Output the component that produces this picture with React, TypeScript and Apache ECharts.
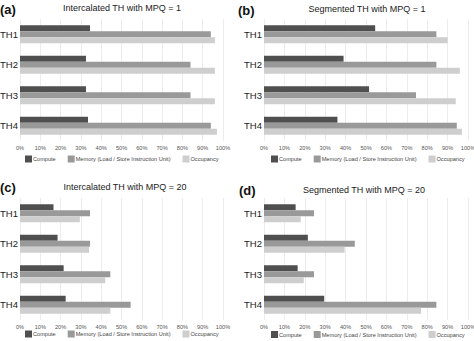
import React, { useEffect, useRef } from "react";
import * as echarts from "echarts";

const categories = ["TH1", "TH2", "TH3", "TH4"];
const seriesNames = ["Compute", "Memory (Load / Store Instruction Unit)", "Occupancy"];
const xTicks = [0, 10, 20, 30, 40, 50, 60, 70, 80, 90, 100];

const panelLetters = ["(a)", "(b)", "(c)", "(d)"];
const panelTitles = [
  "Intercalated TH with MPQ = 1",
  "Segmented TH with MPQ = 1",
  "Intercalated TH with MPQ = 20",
  "Segmented TH with MPQ = 20",
];

const computeA = [34.5, 32.5, 32.5, 33.5];
const memoryA = [94, 84, 84, 94];
const occupancyA = [96, 96, 96, 97];

const computeB = [54.5, 39, 51.5, 36];
const memoryB = [84.5, 84.5, 74.5, 94.5];
const occupancyB = [90, 96, 94, 97];

const computeC = [16.5, 18.5, 21.5, 22.5];
const memoryC = [34.5, 34.5, 44.5, 54.5];
const occupancyC = [29.5, 34, 42, 44.5];

const computeD = [15.5, 21.5, 16.5, 29.5];
const memoryD = [24.5, 44.5, 24.5, 84.5];
const occupancyD = [18, 39.5, 19.5, 77];

const panelData = [
  [computeA, memoryA, occupancyA],
  [computeB, memoryB, occupancyB],
  [computeC, memoryC, occupancyC],
  [computeD, memoryD, occupancyD],
];

const colors = ["#4f4f4f", "#999999", "#cecece"];

const layout = [
  { left: 20, top: 19, width: 203, height: 122, titleX: 122, titleY: 8, letterX: 0, letterY: 9, legendX: 25, legendY: 155.5 },
  { left: 264, top: 19, width: 204, height: 122, titleX: 367, titleY: 9, letterX: 238, letterY: 10, legendX: 271, legendY: 155.5 },
  { left: 20, top: 198, width: 203, height: 122, titleX: 125, titleY: 187, letterX: 0, letterY: 187, legendX: 25, legendY: 330.5 },
  { left: 264, top: 198, width: 204, height: 122, titleX: 364, titleY: 190, letterX: 239, letterY: 190, legendX: 271, legendY: 331 },
];

export default function App() {
  const ref = useRef<HTMLDivElement>(null);
  useEffect(() => {
    if (!ref.current) return;
    const chart = echarts.init(ref.current, null, { renderer: "svg" });
    const font = "Liberation Sans, Arial, sans-serif";
    const grids = layout.map((l) => ({
      left: l.left,
      top: l.top,
      width: l.width,
      height: l.height,
      outerBoundsMode: "none",
      containLabel: false,
    }));
    const xAxes = layout.map((_, i) => ({
      type: "value",
      gridIndex: i,
      min: 0,
      max: 100,
      interval: 10,
      axisLine: { show: false },
      axisTick: { show: false },
      axisLabel: {
        formatter: (v: number) => (xTicks.includes(v) ? v + "%" : ""),
        fontSize: 5.6,
        color: "#555",
        fontFamily: font,
        margin: 4,
      },
      splitLine: { show: true, lineStyle: { color: "#ececec", width: 1 } },
    }));
    const yAxes = layout.map((_, i) => ({
      type: "category",
      gridIndex: i,
      data: categories,
      inverse: true,
      axisLine: { show: false },
      axisTick: { show: false },
      axisLabel: { fontSize: 9.5, color: "#222", fontFamily: font, margin: 2 },
      splitLine: { show: false },
    }));
    const series: any[] = [];
    panelData.forEach((arrs, p) => {
      arrs.forEach((vals, s) => {
        series.push({
          type: "bar",
          name: seriesNames[s],
          xAxisIndex: p,
          yAxisIndex: p,
          data: vals,
          barWidth: 6,
          barGap: "0%",
          itemStyle: { color: colors[s] },
          silent: true,
        });
      });
    });
    const legends = layout.map((l) => ({
      data: seriesNames,
      left: l.legendX,
      top: l.legendY,
      width: 210,
      itemWidth: 7,
      itemHeight: 7,
      itemGap: 12,
      icon: "rect",
      textStyle: { fontSize: 5.6, color: "#444", fontFamily: font, padding: [0, 0, 0, -4] },
      padding: 0,
      selectedMode: false,
    }));
    const graphics: any[] = [];
    layout.forEach((l, i) => {
      graphics.push({
        type: "text",
        x: l.letterX,
        y: l.letterY,
        style: {
          text: panelLetters[i],
          fontSize: 13,
          fontWeight: "bold",
          fill: "#111",
          fontFamily: font,
          textAlign: "left",
          textVerticalAlign: "middle",
        },
      });
      graphics.push({
        type: "text",
        x: l.titleX,
        y: l.titleY,
        style: {
          text: panelTitles[i],
          fontSize: 9,
          fill: "#222",
          fontFamily: font,
          textAlign: "center",
          textVerticalAlign: "middle",
        },
      });
    });
    chart.setOption({
      animation: false,
      backgroundColor: "#ffffff",
      grid: grids,
      xAxis: xAxes,
      yAxis: yAxes,
      series,
      legend: legends,
      graphic: graphics,
    });
    return () => chart.dispose();
  }, []);
  return (
    <div
      ref={ref}
      style={{ position: "absolute", left: 0, top: 0, width: 474, height: 341, background: "#fff" }}
    />
  );
}
